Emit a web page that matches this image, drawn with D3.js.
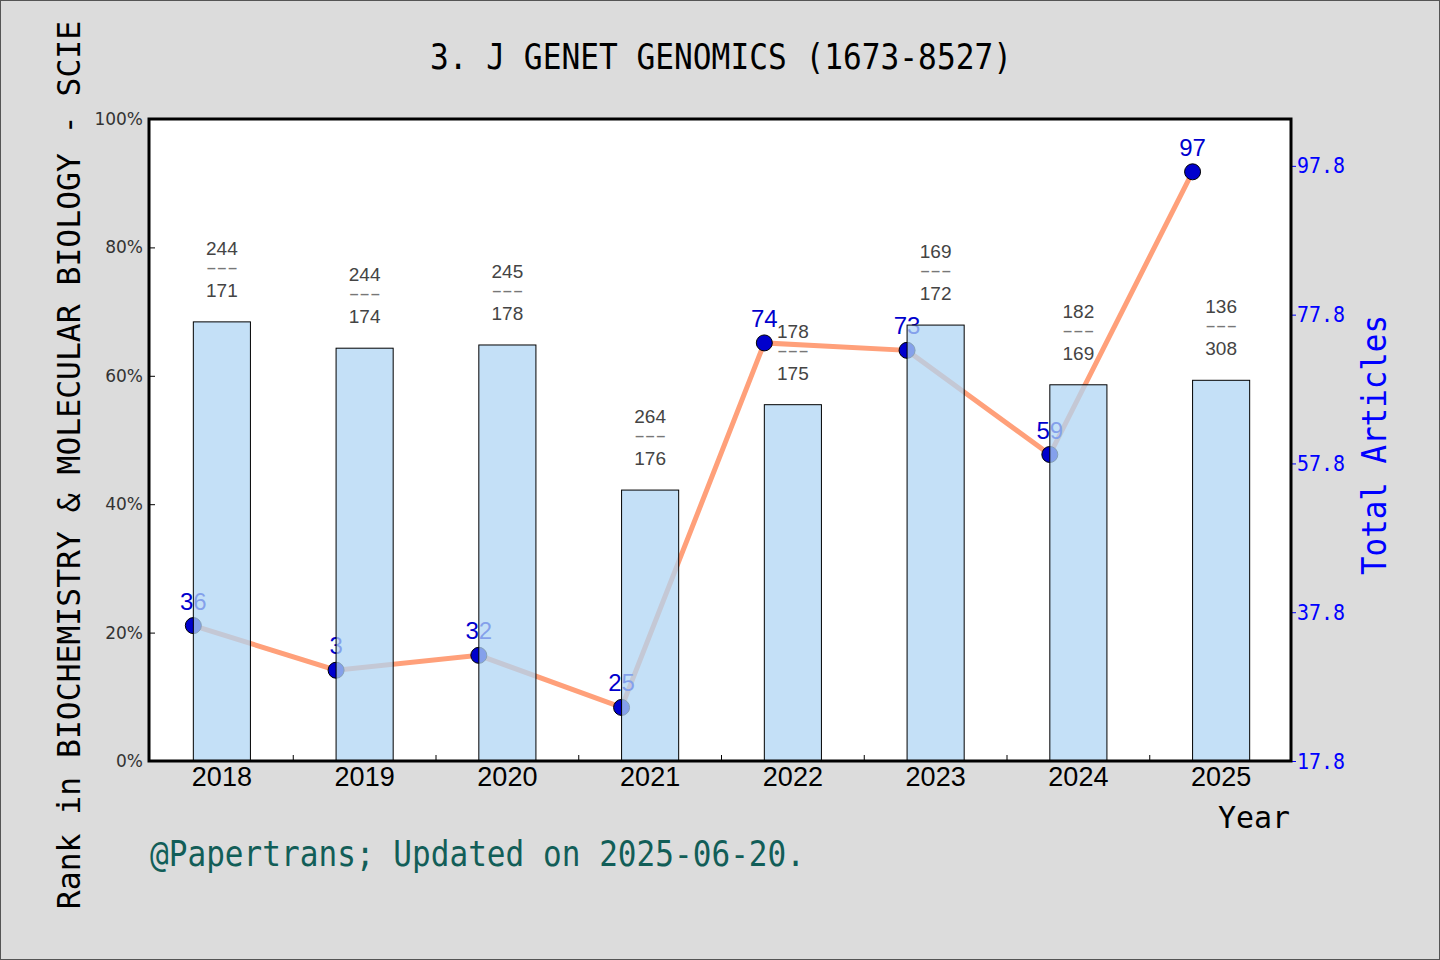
<!DOCTYPE html>
<html>
<head>
<meta charset="utf-8">
<script src="https://cdn.jsdelivr.net/npm/d3@7"></script>
<style>
  body { margin: 0; background: #dcdcdc; }
</style>
</head>
<body>
<div id="chart"></div>
<script>
// Data
const years = ['2018', '2019', '2020', '2021', '2022', '2023', '2024', '2025']
const rankShare = [0.684, 0.643, 0.648, 0.422, 0.555, 0.679, 0.586, 0.593]
const rankTop = [244, 244, 245, 264, 178, 169, 182, 136]
const rankBottom = [171, 174, 178, 176, 175, 172, 169, 308]
const articles = [36, 30, 32, 25, 74, 73, 59, 97]
const articleLabels = ['36', '3', '32', '25', '74', '73', '59', '97']
const leftTicks = [0, 0.2, 0.4, 0.6, 0.8, 1]
const rightTicks = [17.8, 37.8, 57.8, 77.8, 97.8]

const W = 1440
const H = 960
const plot = { left: 149, right: 1291, top: 119, bottom: 761 }
const mono = '"DejaVu Sans Mono", monospace'

const svg = d3.select('#chart').append('svg')
  .attr('width', W)
  .attr('height', H)

// page background with thin frame
svg.append('rect')
  .attr('x', 0.5).attr('y', 0.5)
  .attr('width', W - 1).attr('height', H - 1)
  .attr('fill', '#dcdcdc')
  .attr('stroke', '#555')

// scales
const x = d3.scaleBand().domain(years).range([plot.left + 1.5, plot.right + 1.5])
const yLeft = d3.scaleLinear().domain([0, 1]).range([plot.bottom, plot.top])
const yRight = d3.scaleLinear().domain([17.8, 104.1]).range([plot.bottom, plot.top])
const barW = x.bandwidth() * 0.4
const cx = d => x(d) + x.bandwidth() / 2

// plot area
svg.append('rect')
  .attr('x', plot.left).attr('y', plot.top)
  .attr('width', plot.right - plot.left)
  .attr('height', plot.bottom - plot.top)
  .attr('fill', 'white')

// line of total articles (drawn under the bars)
const pts = years.map((yr, i) => ({ yr, v: articles[i], label: articleLabels[i] }))
const line = d3.line()
  .x(d => cx(d.yr) - barW / 2)
  .y(d => yRight(d.v))

svg.append('path')
  .datum(pts)
  .attr('d', line)
  .attr('fill', 'none')
  .attr('stroke', '#ffa07a')
  .attr('stroke-width', 5)

svg.selectAll('.pt')
  .data(pts)
  .join('circle')
  .attr('class', 'pt')
  .attr('cx', d => cx(d.yr) - barW / 2)
  .attr('cy', d => yRight(d.v))
  .attr('r', 8)
  .attr('fill', '#0000cd')
  .attr('stroke', 'black')
  .attr('stroke-width', 1)

svg.selectAll('.ptlabel')
  .data(pts)
  .join('text')
  .attr('class', 'ptlabel')
  .attr('x', d => cx(d.yr) - barW / 2)
  .attr('y', d => yRight(d.v) - 16)
  .attr('text-anchor', 'middle')
  .attr('fill', '#0000cd')
  .style('font-family', '"Liberation Sans", Arial, sans-serif')
  .style('font-size', '24px')
  .text(d => d.label)

// bars of rank share, semi transparent on top of the line
const bars = years.map((yr, i) => ({ yr, v: rankShare[i], top: rankTop[i], bottom: rankBottom[i] }))
svg.selectAll('.bar')
  .data(bars)
  .join('rect')
  .attr('class', 'bar')
  .attr('x', d => cx(d.yr) - barW / 2)
  .attr('y', d => yLeft(d.v))
  .attr('width', barW)
  .attr('height', d => yLeft(0) - yLeft(d.v))
  .attr('fill', 'rgb(176, 213, 244)')
  .attr('fill-opacity', 0.75)
  .attr('stroke', 'black')
  .attr('stroke-width', 1)

// fraction labels over the bars
const labelFont = '"Liberation Sans", Arial, sans-serif'
const barLabels = svg.selectAll('.barlabel')
  .data(bars)
  .join('g')
  .attr('class', 'barlabel')
  .attr('transform', d => `translate(${cx(d.yr)}, ${yLeft(d.v)})`)
barLabels.append('text')
  .attr('y', -67)
  .attr('text-anchor', 'middle')
  .attr('fill', '#444')
  .style('font-family', labelFont)
  .style('font-size', '19px')
  .text(d => d.top)
barLabels.append('text')
  .attr('y', -48)
  .attr('text-anchor', 'middle')
  .attr('fill', '#777')
  .attr('textLength', 32)
  .attr('lengthAdjust', 'spacingAndGlyphs')
  .style('font-family', labelFont)
  .style('font-size', '19px')
  .text('---')
barLabels.append('text')
  .attr('y', -25)
  .attr('text-anchor', 'middle')
  .attr('fill', '#444')
  .style('font-family', labelFont)
  .style('font-size', '19px')
  .text(d => d.bottom)

// left axis (percent)
const leftAxis = svg.append('g')
  .attr('transform', `translate(${plot.left}, 0)`)
  .call(d3.axisLeft(yLeft).tickValues(leftTicks).tickFormat(d3.format('.0%')).tickSizeInner(-6).tickSizeOuter(0).tickPadding(6))
leftAxis.select('.domain').remove()
leftAxis.selectAll('text')
  .attr('fill', '#333')
  .style('font-family', '"DejaVu Sans", sans-serif')
  .style('font-size', '17px')

// right axis (articles)
const rightAxis = svg.append('g')
  .attr('transform', `translate(${plot.right}, 0)`)
  .call(d3.axisRight(yRight).tickValues(rightTicks).tickFormat(d3.format('.1f')).tickSizeInner(5).tickSizeOuter(0).tickPadding(1))
rightAxis.select('.domain').remove()
rightAxis.selectAll('line').attr('stroke', 'blue')
rightAxis.selectAll('text')
  .attr('fill', 'blue')
  .attr('textLength', 48)
  .attr('lengthAdjust', 'spacingAndGlyphs')
  .style('font-family', mono)
  .style('font-size', '22px')

// bottom axis (years)
const bottomAxis = svg.append('g')
  .attr('transform', `translate(0, ${plot.bottom})`)
  .call(d3.axisBottom(x).tickSize(0).tickPadding(6))
bottomAxis.select('.domain').remove()
bottomAxis.selectAll('text')
  .attr('fill', 'black')
  .style('font-family', '"Liberation Sans", Arial, sans-serif')
  .style('font-size', '27px')

// small inner ticks between the years
svg.selectAll('.sep')
  .data(years.slice(1))
  .join('line')
  .attr('class', 'sep')
  .attr('x1', d => x(d)).attr('x2', d => x(d))
  .attr('y1', plot.bottom).attr('y2', plot.bottom - 6)
  .attr('stroke', 'black')

// plot frame
svg.append('rect')
  .attr('x', plot.left).attr('y', plot.top)
  .attr('width', plot.right - plot.left)
  .attr('height', plot.bottom - plot.top)
  .attr('fill', 'none')
  .attr('stroke', 'black')
  .attr('stroke-width', 3)

// title and axis titles
svg.append('text')
  .attr('x', 721).attr('y', 69)
  .attr('text-anchor', 'middle')
  .attr('textLength', 582)
  .attr('lengthAdjust', 'spacingAndGlyphs')
  .style('font-family', mono)
  .style('font-size', '35px')
  .text('3. J GENET GENOMICS (1673-8527)')

svg.append('text')
  .attr('transform', 'translate(80, 465) rotate(-90)')
  .attr('text-anchor', 'middle')
  .style('font-family', mono)
  .style('font-size', '31.4px')
  .text('Rank in BIOCHEMISTRY & MOLECULAR BIOLOGY - SCIE')

svg.append('text')
  .attr('transform', 'translate(1386, 445) rotate(-90)')
  .attr('text-anchor', 'middle')
  .attr('fill', 'blue')
  .attr('textLength', 260)
  .attr('lengthAdjust', 'spacingAndGlyphs')
  .style('font-family', mono)
  .style('font-size', '34px')
  .text('Total Articles')

svg.append('text')
  .attr('x', 1290).attr('y', 828)
  .attr('text-anchor', 'end')
  .attr('textLength', 72)
  .attr('lengthAdjust', 'spacingAndGlyphs')
  .style('font-family', mono)
  .style('font-size', '31px')
  .text('Year')

svg.append('text')
  .attr('x', 150).attr('y', 866)
  .attr('fill', '#125e58')
  .attr('textLength', 655)
  .attr('lengthAdjust', 'spacingAndGlyphs')
  .style('font-family', mono)
  .style('font-size', '35px')
  .text('@Papertrans; Updated on 2025-06-20.')
</script>
</body>
</html>
